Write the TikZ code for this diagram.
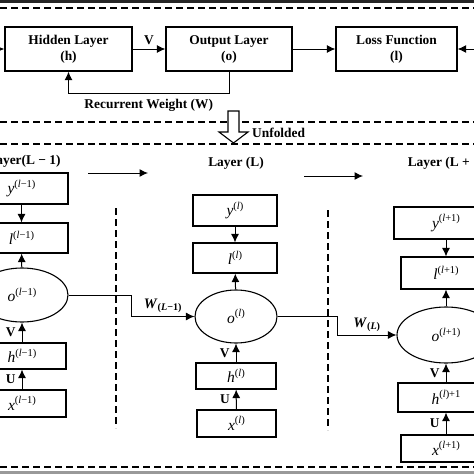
\documentclass[tikz,border=0pt]{standalone}
\usepackage{fontspec}
\setmainfont{Liberation Serif}
\usepackage{tikz}
\usetikzlibrary{shapes,arrows.meta}
\newcommand{\supr}[1]{\raisebox{0.42em}{\fontsize{10.5}{10.5}\selectfont #1}}
\newcommand{\vlab}[2]{\textit{#1}\supr{(\textit{l}#2)}}

\begin{document}
\begin{tikzpicture}[x=1pt,y=-1pt]

        \tikzstyle{block} = [draw, line width=1.3pt, inner sep=0pt, minimum height=44pt, align=center, font=\fontsize{13.4}{16}\selectfont\bfseries]
        \tikzstyle{cell}  = [draw, line width=1.1pt, inner sep=0pt, font=\fontsize{15.5}{16}\selectfont]
        \tikzstyle{unit}  = [draw, ellipse, line width=1.1pt, inner sep=0pt, font=\fontsize{15.5}{16}\selectfont]
        \tikzstyle{lbl}   = [inner sep=0pt, font=\fontsize{13.4}{16}\selectfont\bfseries]
        \tikzstyle{sep}   = [line width=1.2pt, dash pattern=on 7pt off 4pt]
        \tikzstyle{link}  = [-{Latex[length=8.5pt,width=8pt]}, line width=1pt]

        \useasboundingbox (0,0) rectangle (474,474);
        \clip (0,0) rectangle (474,474);

        % frame edges
        \fill [black!85] (0,0) rectangle (474,3);
        \fill [black!40] (0,471) rectangle (474,474);

        \foreach \y in {8, 122, 144, 467}
        {
                \draw [sep] (0,\y) -- (474,\y);
        }

        % folded network
        \node [block, minimum width=127pt](hid) at (68.5,49) {Hidden Layer\\(h)};
        \node [block, minimum width=126pt](out) at (229,49) {Output Layer\\(o)};
        \node [block, minimum width=121pt](loss) at (396.5,49) {Loss Function\\(l)};
        \coordinate (inL) at (-10,49);
        \coordinate (inR) at (484,49);

        \draw [link] (inL) -- (hid);
        \draw [link] (hid) -- node [lbl, above=4pt] {V} (out);
        \draw [link] (out) -- (loss);
        \draw [link] (inR) -- (loss);
        \draw [link] (out.south) -- ++(0,22) -| node [lbl, pos=0.25, below=5pt] {Recurrent Weight (W)} (hid.south);

        \draw [line width=1.1pt, fill=white] (228,111) -- (239,111) -- (239,132) -- (248,132)
                -- (233.5,143) -- (219,132) -- (228,132) -- cycle;
        \node [lbl, anchor=west](unf) at (252,133) {Unfolded};

        % unfolded layers
        \node [lbl](t1) at (24,161) {Layer(L − 1)};
        \node [lbl](t2) at (236,163) {Layer (L)};
        \node [lbl](t3) at (446,163) {Layer (L + 1)};

        \coordinate (a1) at (88,173);
        \coordinate (b1) at (148,173);
        \coordinate (a2) at (304,176);
        \coordinate (b2) at (363,176);
        \draw [link] (a1) -- (b1);
        \draw [link] (a2) -- (b2);

        \draw [sep] (116,208) -- (116,428);
        \draw [sep] (328,210) -- (328,430);

        \node [cell, minimum width=93pt, minimum height=31pt](y1) at (21.5,188.5) {\vlab{y}{−1}};
        \node [cell, minimum width=93pt, minimum height=30pt](l1) at (21.5,238) {\vlab{l}{−1}};
        \node [unit, minimum width=92pt, minimum height=54pt](o1) at (22,295) {\vlab{o}{−1}};
        \node [cell, minimum width=88pt, minimum height=26pt](h1) at (22,356) {\vlab{h}{−1}};
        \node [cell, minimum width=88pt, minimum height=27pt](x1) at (22,403.5) {\vlab{x}{−1}};

        \node [cell, minimum width=84pt, minimum height=31pt](y2) at (235,210.5) {\vlab{y}{}};
        \node [cell, minimum width=84pt, minimum height=30pt](l2) at (235,258) {\vlab{l}{}};
        \node [unit, minimum width=82pt, minimum height=53pt](o2) at (236,316.5) {\vlab{o}{}};
        \node [cell, minimum width=80pt, minimum height=26pt](h2) at (236,376) {\vlab{h}{}};
        \node [cell, minimum width=79pt, minimum height=27pt](x2) at (236.5,423.5) {\vlab{x}{}};

        \node [cell, minimum width=104pt, minimum height=32pt](y3) at (446,223) {\vlab{y}{+1}};
        \node [cell, minimum width=90pt, minimum height=32pt](l3) at (446,273) {\vlab{l}{+1}};
        \node [unit, minimum width=98pt, minimum height=56pt](o3) at (446,335) {\vlab{o}{+1}};
        \node [cell, minimum width=96pt, minimum height=29pt](h3) at (446,397.5) {\textit{h}\supr{(\textit{l})+1}};
        \node [cell, minimum width=90pt, minimum height=27pt](x3) at (446,448.5) {\vlab{x}{+1}};

        \foreach \c in {1,2,3}
        {
                \draw [link] (y\c) -- (l\c);
                \draw [link] (o\c) -- (l\c);
                \draw [link] (h\c) -- node [lbl, left=6pt] {V} (o\c);
                \draw [link] (x\c) -- node [lbl, left=6pt] {U} (h\c);
        }

        \draw [link] (o1.east) -- ++(63,0) |- node [lbl, pos=0.75, above=3pt, font=\fontsize{14.5}{16}\selectfont\bfseries] {\textit{W}\textsubscript{(\textit{L}−1)}} (o2.west);
        \draw [link] (o2.east) -- ++(60,0) |- node [lbl, pos=0.75, above=3pt, font=\fontsize{14.5}{16}\selectfont\bfseries] {\textit{W}\textsubscript{(\textit{L})}} (o3.west);

\end{tikzpicture}
\end{document}
